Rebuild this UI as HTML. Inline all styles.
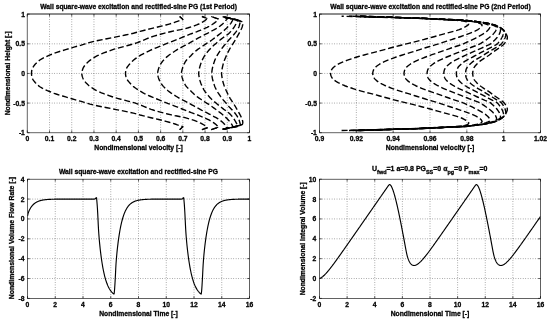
<!DOCTYPE html>
<html lang="en"><head><meta charset="utf-8"><title>Wall square-wave excitation and rectified-sine PG</title>
<style>html,body{margin:0;padding:0;background:#fff}svg{display:block}text{font-family:"Liberation Sans",Arial,Helvetica,sans-serif;font-weight:bold;font-size:6.75px;fill:#000;stroke:#000;stroke-width:0.28px;paint-order:stroke}</style>
</head><body>
<svg width="550" height="321" viewBox="0 0 550 321">
<rect width="550" height="321" fill="#fff"/>
<path d="M49.52 14.20V132.70M71.74 14.20V132.70M93.96 14.20V132.70M116.18 14.20V132.70M138.40 14.20V132.70M160.62 14.20V132.70M182.84 14.20V132.70M205.06 14.20V132.70M227.28 14.20V132.70M27.30 103.07H249.50M27.30 73.45H249.50M27.30 43.83H249.50" fill="none" stroke="#000" stroke-width="0.55" stroke-dasharray="0.75 1.7" opacity="0.8"/>
<path d="M27.30 132.70v-2.3M27.30 14.20v2.3M49.52 132.70v-2.3M49.52 14.20v2.3M71.74 132.70v-2.3M71.74 14.20v2.3M93.96 132.70v-2.3M93.96 14.20v2.3M116.18 132.70v-2.3M116.18 14.20v2.3M138.40 132.70v-2.3M138.40 14.20v2.3M160.62 132.70v-2.3M160.62 14.20v2.3M182.84 132.70v-2.3M182.84 14.20v2.3M205.06 132.70v-2.3M205.06 14.20v2.3M227.28 132.70v-2.3M227.28 14.20v2.3M249.50 132.70v-2.3M249.50 14.20v2.3M27.30 132.70h2.3M249.50 132.70h-2.3M27.30 103.07h2.3M249.50 103.07h-2.3M27.30 73.45h2.3M249.50 73.45h-2.3M27.30 43.83h2.3M249.50 43.83h-2.3M27.30 14.20h2.3M249.50 14.20h-2.3" fill="none" stroke="#000" stroke-width="0.62"/>
<path d="M27.3 14.2V132.7H249.5V14.2" fill="none" stroke="#000" stroke-width="0.62"/>
<path d="M26.990000000000002 14.0H249.81" fill="none" stroke="#000" stroke-width="0.9"/>
<text x="27.30" y="141.00" text-anchor="middle">0</text>
<text x="49.52" y="141.00" text-anchor="middle">0.1</text>
<text x="71.74" y="141.00" text-anchor="middle">0.2</text>
<text x="93.96" y="141.00" text-anchor="middle">0.3</text>
<text x="116.18" y="141.00" text-anchor="middle">0.4</text>
<text x="138.40" y="141.00" text-anchor="middle">0.5</text>
<text x="160.62" y="141.00" text-anchor="middle">0.6</text>
<text x="182.84" y="141.00" text-anchor="middle">0.7</text>
<text x="205.06" y="141.00" text-anchor="middle">0.8</text>
<text x="227.28" y="141.00" text-anchor="middle">0.9</text>
<text x="249.50" y="141.00" text-anchor="middle">1</text>
<text x="24.90" y="135.20" text-anchor="end">-1</text>
<text x="24.90" y="105.57" text-anchor="end">-0.5</text>
<text x="24.90" y="75.95" text-anchor="end">0</text>
<text x="24.90" y="46.33" text-anchor="end">0.5</text>
<text x="24.90" y="16.70" text-anchor="end">1</text>
<clipPath id="c1"><rect x="27.3" y="14.2" width="222.2" height="118.49999999999999"/></clipPath>
<g clip-path="url(#c1)" fill="none" stroke="#000" stroke-width="1.4" stroke-dasharray="6.0 2.8" stroke-linejoin="round">
<path d="M179.64 129.65L182.91 126.73L180.09 125.82L177.43 124.92L175.00 124.02L172.28 123.11L169.20 122.21L165.90 121.31L162.44 120.40L158.69 119.50L154.74 118.60L150.92 117.70L147.21 116.79L143.57 115.89L140.10 114.99L136.90 114.08L133.44 113.18L129.50 112.28L125.30 111.37L120.92 110.47L116.30 109.57L111.67 108.67L107.01 107.76L102.46 106.86L98.07 105.96L93.84 105.05L90.14 104.15L87.06 103.25L84.24 102.34L81.27 101.44L77.97 100.54L74.78 99.64L71.75 98.73L68.72 97.83L65.67 96.93L62.58 96.02L59.57 95.12L56.79 94.22L54.19 93.32L51.81 92.41L49.57 91.51L47.42 90.61L45.39 89.70L43.53 88.80L41.77 87.90L40.25 86.99L39.00 86.09L37.90 85.19L36.91 84.29L36.01 83.38L35.16 82.48L34.39 81.58L33.72 80.67L33.13 79.77L32.57 78.87L32.13 77.96L31.88 77.06L31.74 76.16L31.62 75.26L31.55 74.35L31.52 73.45L31.55 72.54L31.62 71.62L31.74 70.71L31.88 69.79L32.13 68.88L32.57 67.96L33.13 67.05L33.72 66.13L34.39 65.22L35.16 64.30L36.01 63.39L36.91 62.47L37.90 61.56L39.00 60.64L40.25 59.73L41.77 58.81L43.53 57.90L45.39 56.98L47.42 56.07L49.57 55.15L51.81 54.24L54.19 53.32L56.79 52.41L59.57 51.49L62.58 50.58L65.67 49.66L68.72 48.75L71.75 47.83L74.78 46.92L77.97 46.00L81.27 45.09L84.24 44.17L87.06 43.26L90.14 42.34L93.84 41.43L98.07 40.52L102.46 39.60L107.01 38.69L111.67 37.77L116.30 36.86L120.92 35.94L125.30 35.03L129.50 34.11L133.44 33.20L136.90 32.28L140.10 31.37L143.57 30.45L147.21 29.54L150.92 28.62L154.74 27.71L158.69 26.79L162.44 25.88L165.90 24.96L169.20 24.05L172.28 23.13L175.00 22.22L177.43 21.30L180.09 20.39L182.91 19.47L179.64 16.51"/>
<path d="M201.90 129.65L207.37 127.78L206.49 126.86L205.39 125.94L204.04 125.02L202.47 124.09L200.77 123.17L198.85 122.25L196.69 121.33L194.18 120.41L191.24 119.49L188.29 118.57L185.08 117.65L180.71 116.73L175.72 115.81L171.41 114.89L167.51 113.97L163.86 113.04L160.39 112.12L157.06 111.20L153.95 110.28L151.16 109.36L148.69 108.44L146.44 107.52L144.28 106.60L142.08 105.68L139.75 104.76L137.36 103.84L134.70 102.92L131.24 102.00L127.83 101.07L124.43 100.15L120.82 99.23L117.34 98.31L114.12 97.39L111.45 96.47L108.95 95.55L106.30 94.63L103.74 93.71L101.45 92.79L99.34 91.87L97.41 90.95L95.63 90.02L93.98 89.10L92.51 88.18L91.17 87.26L89.93 86.34L88.80 85.42L87.75 84.50L86.77 83.58L85.88 82.66L85.11 81.74L84.40 80.82L83.77 79.90L83.26 78.97L82.86 78.05L82.52 77.13L82.24 76.21L82.03 75.29L81.87 74.37L81.76 73.45L81.87 72.52L82.03 71.58L82.24 70.65L82.52 69.72L82.86 68.79L83.26 67.85L83.77 66.92L84.40 65.99L85.11 65.05L85.88 64.12L86.77 63.19L87.75 62.25L88.80 61.32L89.93 60.39L91.17 59.46L92.51 58.52L93.98 57.59L95.63 56.66L97.41 55.72L99.34 54.79L101.45 53.86L103.74 52.93L106.30 51.99L108.95 51.06L111.45 50.13L114.12 49.19L117.34 48.26L120.82 47.33L124.43 46.39L127.83 45.46L131.24 44.53L134.70 43.60L137.36 42.66L139.75 41.73L142.08 40.80L144.28 39.86L146.44 38.93L148.69 38.00L151.16 37.07L153.95 36.13L157.06 35.20L160.39 34.27L163.86 33.33L167.51 32.40L171.41 31.47L175.72 30.53L180.71 29.60L185.08 28.67L188.29 27.74L191.24 26.80L194.18 25.87L196.69 24.94L198.85 24.00L200.77 23.07L202.47 22.14L204.04 21.21L205.39 20.27L206.49 19.34L207.37 18.41L201.90 16.51"/>
<path d="M211.17 129.65L218.26 127.25L217.67 126.34L216.91 125.43L215.98 124.52L214.82 123.60L213.50 122.69L212.10 121.78L210.60 120.87L208.95 119.96L207.18 119.04L205.24 118.13L203.10 117.22L200.92 116.31L198.74 115.40L196.47 114.48L193.97 113.57L191.34 112.66L188.92 111.75L186.64 110.84L184.38 109.93L182.15 109.01L179.95 108.10L177.73 107.19L175.42 106.28L172.98 105.37L170.53 104.45L168.14 103.54L165.79 102.63L163.53 101.72L161.34 100.81L159.12 99.89L156.79 98.98L154.47 98.07L152.29 97.16L150.19 96.25L148.19 95.34L146.26 94.42L144.43 93.51L142.71 92.60L141.08 91.69L139.53 90.78L138.07 89.86L136.71 88.95L135.42 88.04L134.21 87.13L133.11 86.22L132.12 85.30L131.19 84.39L130.33 83.48L129.50 82.57L128.71 81.66L127.99 80.75L127.37 79.83L126.78 78.92L126.31 78.01L126.05 77.10L125.84 76.19L125.67 75.27L125.55 74.36L125.51 73.45L125.55 72.53L125.67 71.60L125.84 70.68L126.05 69.75L126.31 68.83L126.78 67.91L127.37 66.98L127.99 66.06L128.71 65.13L129.50 64.21L130.33 63.29L131.19 62.36L132.12 61.44L133.11 60.52L134.21 59.59L135.42 58.67L136.71 57.74L138.07 56.82L139.53 55.90L141.08 54.97L142.71 54.05L144.43 53.12L146.26 52.20L148.19 51.28L150.19 50.35L152.29 49.43L154.47 48.50L156.79 47.58L159.12 46.66L161.34 45.73L163.53 44.81L165.79 43.89L168.14 42.96L170.53 42.04L172.98 41.11L175.42 40.19L177.73 39.27L179.95 38.34L182.15 37.42L184.38 36.49L186.64 35.57L188.92 34.65L191.34 33.72L193.97 32.80L196.47 31.87L198.74 30.95L200.92 30.03L203.10 29.10L205.24 28.18L207.18 27.26L208.95 26.33L210.60 25.41L212.10 24.48L213.50 23.56L214.82 22.64L215.98 21.71L216.91 20.79L217.67 19.86L218.26 18.94L211.17 16.51"/>
<path d="M222.61 129.30L227.28 127.84L226.70 126.91L226.04 125.99L225.31 125.07L224.49 124.15L223.57 123.23L222.57 122.31L221.50 121.38L220.33 120.46L219.05 119.54L217.67 118.62L216.11 117.70L214.40 116.77L212.66 115.85L210.96 114.93L209.25 114.01L207.50 113.09L205.69 112.17L203.80 111.24L201.93 110.32L200.16 109.40L198.46 108.48L196.78 107.56L195.11 106.63L193.46 105.71L191.81 104.79L190.17 103.87L188.53 102.95L186.84 102.03L185.00 101.10L183.09 100.18L181.30 99.26L179.58 98.34L177.96 97.42L176.47 96.49L175.06 95.57L173.66 94.65L172.23 93.73L170.80 92.81L169.47 91.89L168.28 90.96L167.16 90.04L166.12 89.12L165.15 88.20L164.24 87.28L163.38 86.36L162.57 85.43L161.85 84.51L161.21 83.59L160.63 82.67L160.10 81.75L159.63 80.82L159.23 79.90L158.87 78.98L158.56 78.06L158.28 77.14L158.04 76.22L157.83 75.29L157.64 74.37L157.49 73.45L157.64 72.52L157.83 71.58L158.04 70.65L158.28 69.71L158.56 68.78L158.87 67.85L159.23 66.91L159.63 65.98L160.10 65.04L160.63 64.11L161.21 63.18L161.85 62.24L162.57 61.31L163.38 60.37L164.24 59.44L165.15 58.51L166.12 57.57L167.16 56.64L168.28 55.71L169.47 54.77L170.80 53.84L172.23 52.90L173.66 51.97L175.06 51.04L176.47 50.10L177.96 49.17L179.58 48.23L181.30 47.30L183.09 46.37L185.00 45.43L186.84 44.50L188.53 43.56L190.17 42.63L191.81 41.70L193.46 40.76L195.11 39.83L196.78 38.89L198.46 37.96L200.16 37.03L201.93 36.09L203.80 35.16L205.69 34.22L207.50 33.29L209.25 32.36L210.96 31.42L212.66 30.49L214.40 29.55L216.11 28.62L217.67 27.69L219.05 26.75L220.33 25.82L221.50 24.89L222.57 23.95L223.57 23.02L224.49 22.08L225.31 21.15L226.04 20.22L226.70 19.28L227.28 18.35L222.61 16.87"/>
<path d="M222.61 129.30L233.06 127.25L232.74 126.34L232.34 125.43L231.85 124.52L231.28 123.60L230.64 122.69L229.93 121.78L229.13 120.87L228.29 119.96L227.41 119.04L226.51 118.13L225.56 117.22L224.56 116.31L223.53 115.40L222.45 114.48L221.29 113.57L220.10 112.66L218.88 111.75L217.67 110.84L216.47 109.93L215.26 109.01L214.04 108.10L212.81 107.19L211.58 106.28L210.33 105.37L208.93 104.45L207.41 103.54L205.91 102.63L204.50 101.72L203.14 100.81L201.80 99.89L200.45 98.98L199.08 98.07L197.77 97.16L196.57 96.25L195.45 95.34L194.40 94.42L193.39 93.51L192.42 92.60L191.51 91.69L190.64 90.78L189.74 89.86L188.77 88.95L187.81 88.04L186.93 87.13L186.21 86.22L185.55 85.30L184.97 84.39L184.46 83.48L184.00 82.57L183.59 81.66L183.22 80.75L182.89 79.83L182.59 78.92L182.31 78.01L182.06 77.10L181.83 76.19L181.62 75.27L181.44 74.36L181.28 73.45L181.44 72.53L181.62 71.60L181.83 70.68L182.06 69.75L182.31 68.83L182.59 67.91L182.89 66.98L183.22 66.06L183.59 65.13L184.00 64.21L184.46 63.29L184.97 62.36L185.55 61.44L186.21 60.52L186.93 59.59L187.81 58.67L188.77 57.74L189.74 56.82L190.64 55.90L191.51 54.97L192.42 54.05L193.39 53.12L194.40 52.20L195.45 51.28L196.57 50.35L197.77 49.43L199.08 48.50L200.45 47.58L201.80 46.66L203.14 45.73L204.50 44.81L205.91 43.89L207.41 42.96L208.93 42.04L210.33 41.11L211.58 40.19L212.81 39.27L214.04 38.34L215.26 37.42L216.47 36.49L217.67 35.57L218.88 34.65L220.10 33.72L221.29 32.80L222.45 31.87L223.53 30.95L224.56 30.03L225.56 29.10L226.51 28.18L227.41 27.26L228.29 26.33L229.13 25.41L229.93 24.48L230.64 23.56L231.28 22.64L231.85 21.71L232.34 20.79L232.74 19.86L233.06 18.94L222.61 16.87"/>
<path d="M222.84 129.30L237.72 126.37L237.49 125.48L237.16 124.58L236.73 123.68L236.24 122.79L235.73 121.89L235.22 120.99L234.68 120.10L234.12 119.20L233.51 118.30L232.86 117.40L232.17 116.51L231.43 115.61L230.63 114.71L229.77 113.82L228.84 112.92L227.78 112.02L226.52 111.12L225.18 110.23L223.86 109.33L222.65 108.43L221.50 107.54L220.38 106.64L219.27 105.74L218.17 104.85L217.08 103.95L215.98 103.05L214.86 102.15L213.78 101.26L212.78 100.36L211.84 99.46L210.95 98.57L210.09 97.67L209.26 96.77L208.47 95.88L207.70 94.98L206.97 94.08L206.26 93.18L205.57 92.29L204.92 91.39L204.31 90.49L203.78 89.60L203.28 88.70L202.82 87.80L202.40 86.91L201.99 86.01L201.60 85.11L201.23 84.21L200.88 83.32L200.56 82.42L200.27 81.52L200.00 80.63L199.75 79.73L199.52 78.83L199.32 77.94L199.14 77.04L198.99 76.14L198.85 75.24L198.73 74.35L198.64 73.45L198.73 72.54L198.85 71.63L198.99 70.72L199.14 69.81L199.32 68.91L199.52 68.00L199.75 67.09L200.00 66.18L200.27 65.27L200.56 64.36L200.88 63.45L201.23 62.54L201.60 61.64L201.99 60.73L202.40 59.82L202.82 58.91L203.28 58.00L203.78 57.09L204.31 56.18L204.92 55.27L205.57 54.36L206.26 53.46L206.97 52.55L207.70 51.64L208.47 50.73L209.26 49.82L210.09 48.91L210.95 48.00L211.84 47.09L212.78 46.18L213.78 45.28L214.86 44.37L215.98 43.46L217.08 42.55L218.17 41.64L219.27 40.73L220.38 39.82L221.50 38.91L222.65 38.01L223.86 37.10L225.18 36.19L226.52 35.28L227.78 34.37L228.84 33.46L229.77 32.55L230.63 31.64L231.43 30.73L232.17 29.83L232.86 28.92L233.51 28.01L234.12 27.10L234.68 26.19L235.22 25.28L235.73 24.37L236.24 23.46L236.73 22.56L237.16 21.65L237.49 20.74L237.72 19.83L222.84 16.87"/>
<path d="M223.28 129.30L240.63 125.38L240.37 124.50L240.12 123.62L239.87 122.74L239.64 121.86L239.40 120.98L239.12 120.10L238.79 119.22L238.37 118.34L237.89 117.46L237.36 116.58L236.80 115.70L236.21 114.82L235.57 113.94L234.87 113.06L234.12 112.18L233.34 111.30L232.54 110.42L231.75 109.54L230.92 108.66L230.06 107.78L229.22 106.90L228.43 106.02L227.70 105.14L227.00 104.26L226.27 103.38L225.50 102.50L224.72 101.62L223.94 100.74L223.19 99.86L222.49 98.97L221.80 98.09L221.14 97.21L220.49 96.33L219.87 95.45L219.27 94.57L218.69 93.69L218.13 92.81L217.60 91.93L217.09 91.05L216.60 90.17L216.13 89.29L215.68 88.41L215.26 87.53L214.89 86.65L214.55 85.77L214.24 84.89L213.95 84.01L213.67 83.13L213.41 82.25L213.15 81.37L212.90 80.49L212.66 79.61L212.45 78.73L212.28 77.85L212.13 76.97L212.00 76.09L211.89 75.21L211.79 74.33L211.73 73.45L211.79 72.56L211.89 71.67L212.00 70.77L212.13 69.88L212.28 68.99L212.45 68.10L212.66 67.21L212.90 66.32L213.15 65.42L213.41 64.53L213.67 63.64L213.95 62.75L214.24 61.86L214.55 60.97L214.89 60.07L215.26 59.18L215.68 58.29L216.13 57.40L216.60 56.51L217.09 55.61L217.60 54.72L218.13 53.83L218.69 52.94L219.27 52.05L219.87 51.16L220.49 50.26L221.14 49.37L221.80 48.48L222.49 47.59L223.19 46.70L223.94 45.81L224.72 44.91L225.50 44.02L226.27 43.13L227.00 42.24L227.70 41.35L228.43 40.45L229.22 39.56L230.06 38.67L230.92 37.78L231.75 36.89L232.54 36.00L233.34 35.10L234.12 34.21L234.87 33.32L235.57 32.43L236.21 31.54L236.80 30.65L237.36 29.75L237.89 28.86L238.37 27.97L238.79 27.08L239.12 26.19L239.40 25.29L239.64 24.40L239.87 23.51L240.12 22.62L240.37 21.73L240.63 20.84L223.28 16.87"/>
<path d="M223.95 129.30L242.28 124.56L242.61 123.70L242.79 122.83L242.79 121.96L242.64 121.10L242.42 120.23L242.17 119.36L241.85 118.50L241.46 117.63L241.03 116.76L240.60 115.90L240.17 115.03L239.71 114.17L239.23 113.30L238.74 112.43L238.24 111.57L237.75 110.70L237.25 109.83L236.77 108.97L236.27 108.10L235.77 107.24L235.26 106.37L234.73 105.50L234.18 104.64L233.62 103.77L233.06 102.90L232.50 102.04L231.94 101.17L231.38 100.31L230.81 99.44L230.26 98.57L229.75 97.71L229.27 96.84L228.81 95.97L228.37 95.11L227.94 94.24L227.52 93.37L227.11 92.51L226.70 91.64L226.28 90.78L225.88 89.91L225.49 89.04L225.12 88.18L224.77 87.31L224.44 86.44L224.12 85.58L223.82 84.71L223.54 83.85L223.28 82.98L223.04 82.11L222.82 81.25L222.61 80.38L222.42 79.51L222.24 78.65L222.09 77.78L221.95 76.92L221.82 76.05L221.71 75.18L221.61 74.32L221.53 73.45L221.61 72.57L221.71 71.69L221.82 70.82L221.95 69.94L222.09 69.06L222.24 68.18L222.42 67.31L222.61 66.43L222.82 65.55L223.04 64.67L223.28 63.80L223.54 62.92L223.82 62.04L224.12 61.16L224.44 60.28L224.77 59.41L225.12 58.53L225.49 57.65L225.88 56.77L226.28 55.90L226.70 55.02L227.11 54.14L227.52 53.26L227.94 52.39L228.37 51.51L228.81 50.63L229.27 49.75L229.75 48.87L230.26 48.00L230.81 47.12L231.38 46.24L231.94 45.36L232.50 44.49L233.06 43.61L233.62 42.73L234.18 41.85L234.73 40.97L235.26 40.10L235.77 39.22L236.27 38.34L236.77 37.46L237.25 36.59L237.75 35.71L238.24 34.83L238.74 33.95L239.23 33.08L239.71 32.20L240.17 31.32L240.60 30.44L241.03 29.56L241.46 28.69L241.85 27.81L242.17 26.93L242.42 26.05L242.64 25.18L242.79 24.30L242.79 23.42L242.61 22.54L242.28 21.67L223.95 16.87"/>
<path stroke-dasharray="none" stroke-width="1.05" d="M182.91 19.47L179.64 16.51M179.64 129.65L182.91 126.73M207.37 18.41L201.90 16.51M201.90 129.65L207.37 127.78M218.26 18.94L211.17 16.51M211.17 129.65L218.26 127.25M227.28 18.35L222.61 16.87M222.61 129.30L227.28 127.84M233.06 18.94L222.61 16.87M222.61 129.30L233.06 127.25M237.72 19.83L222.84 16.87M222.84 129.30L237.72 126.37M240.63 20.84L223.28 16.87M223.28 129.30L240.63 125.38M242.28 21.67L223.95 16.87M223.95 129.30L242.28 124.56"/>
</g>
<text x="138.6" y="8.7" text-anchor="middle" textLength="196.6" lengthAdjust="spacingAndGlyphs">Wall square-wave excitation and rectified-sine PG (1st Period)</text>
<text x="138.5" y="149.6" text-anchor="middle" textLength="88.4" lengthAdjust="spacingAndGlyphs">Nondimensional velocity [-]</text>
<text transform="translate(9.7 73.25) rotate(-90)" text-anchor="middle" textLength="84" lengthAdjust="spacingAndGlyphs">Nondimensional Height [-]</text>
<path d="M356.33 14.20V132.70M393.17 14.20V132.70M430.00 14.20V132.70M466.83 14.20V132.70M503.67 14.20V132.70M319.50 103.07H540.50M319.50 73.45H540.50M319.50 43.83H540.50" fill="none" stroke="#000" stroke-width="0.55" stroke-dasharray="0.75 1.7" opacity="0.8"/>
<path d="M319.50 132.70v-2.3M319.50 14.20v2.3M356.33 132.70v-2.3M356.33 14.20v2.3M393.17 132.70v-2.3M393.17 14.20v2.3M430.00 132.70v-2.3M430.00 14.20v2.3M466.83 132.70v-2.3M466.83 14.20v2.3M503.67 132.70v-2.3M503.67 14.20v2.3M540.50 132.70v-2.3M540.50 14.20v2.3M319.50 132.70h2.3M540.50 132.70h-2.3M319.50 103.07h2.3M540.50 103.07h-2.3M319.50 73.45h2.3M540.50 73.45h-2.3M319.50 43.83h2.3M540.50 43.83h-2.3M319.50 14.20h2.3M540.50 14.20h-2.3" fill="none" stroke="#000" stroke-width="0.62"/>
<path d="M319.5 14.2V132.7H540.5V14.2" fill="none" stroke="#000" stroke-width="0.62"/>
<path d="M319.19 14.0H540.81" fill="none" stroke="#000" stroke-width="0.9"/>
<text x="319.50" y="141.00" text-anchor="middle">0.9</text>
<text x="356.33" y="141.00" text-anchor="middle">0.92</text>
<text x="393.17" y="141.00" text-anchor="middle">0.94</text>
<text x="430.00" y="141.00" text-anchor="middle">0.96</text>
<text x="466.83" y="141.00" text-anchor="middle">0.98</text>
<text x="503.67" y="141.00" text-anchor="middle">1</text>
<text x="540.50" y="141.00" text-anchor="middle">1.02</text>
<text x="316.90" y="135.20" text-anchor="end">-1</text>
<text x="316.90" y="105.57" text-anchor="end">-0.5</text>
<text x="316.90" y="75.95" text-anchor="end">0</text>
<text x="316.90" y="46.33" text-anchor="end">0.5</text>
<text x="316.90" y="16.70" text-anchor="end">1</text>
<clipPath id="c2"><rect x="319.5" y="14.2" width="221.0" height="118.49999999999999"/></clipPath>
<g clip-path="url(#c2)" fill="none" stroke="#000" stroke-width="1.4" stroke-dasharray="6.0 2.8" stroke-linejoin="round">
<path d="M341.60 130.51L417.48 128.51L456.83 126.44L463.34 125.67L466.63 124.90L468.15 124.13L468.66 123.37L468.67 122.60L468.22 121.83L467.10 121.06L465.94 120.29L464.69 119.53L463.21 118.76L461.41 117.99L459.25 117.22L456.89 116.45L454.27 115.69L451.52 114.92L448.73 114.15L446.00 113.38L443.25 112.61L440.47 111.85L437.67 111.08L434.88 110.31L432.07 109.54L429.25 108.78L426.39 108.01L423.50 107.24L420.58 106.47L417.62 105.70L414.62 104.94L411.58 104.17L408.49 103.40L405.30 102.63L402.00 101.86L398.92 101.10L395.97 100.33L393.06 99.56L390.18 98.79L387.30 98.02L384.45 97.26L381.67 96.49L378.90 95.72L376.11 94.95L373.20 94.18L370.16 93.42L367.13 92.65L364.15 91.88L361.28 91.11L358.56 90.34L356.08 89.58L353.73 88.81L351.37 88.04L349.00 87.27L346.83 86.50L344.87 85.74L343.03 84.97L341.32 84.20L339.67 83.43L338.17 82.67L336.86 81.90L335.66 81.13L334.58 80.36L333.68 79.59L332.91 78.83L332.22 78.06L331.68 77.29L331.33 76.52L331.03 75.75L330.78 74.99L330.61 74.22L330.55 73.45L330.61 72.68L330.78 71.91L331.03 71.14L331.33 70.37L331.68 69.60L332.22 68.83L332.91 68.06L333.68 67.29L334.58 66.52L335.66 65.75L336.86 64.98L338.17 64.21L339.67 63.44L341.32 62.67L343.03 61.90L344.87 61.13L346.83 60.36L349.00 59.59L351.37 58.82L353.73 58.05L356.08 57.27L358.56 56.50L361.28 55.73L364.15 54.96L367.13 54.19L370.16 53.42L373.20 52.65L376.11 51.88L378.90 51.11L381.67 50.34L384.45 49.57L387.30 48.80L390.18 48.03L393.06 47.26L395.97 46.49L398.92 45.72L402.00 44.95L405.30 44.18L408.49 43.41L411.58 42.64L414.62 41.87L417.62 41.10L420.58 40.33L423.50 39.56L426.39 38.79L429.25 38.02L432.07 37.25L434.88 36.48L437.67 35.71L440.47 34.94L443.25 34.17L446.00 33.40L448.73 32.63L451.52 31.86L454.27 31.09L456.89 30.32L459.25 29.55L461.41 28.78L463.21 28.01L464.69 27.23L465.94 26.46L467.10 25.69L468.22 24.92L468.67 24.15L468.66 23.38L468.15 22.61L466.63 21.84L463.34 21.07L456.83 20.30L417.48 18.23L341.60 16.21"/>
<path d="M348.97 130.51L418.21 128.51L460.92 126.44L469.05 125.67L474.07 124.90L477.26 124.13L479.53 123.37L481.34 122.60L482.11 121.83L481.94 121.06L481.53 120.29L480.90 119.53L480.07 118.76L479.04 117.99L477.84 117.22L476.46 116.45L474.93 115.69L473.26 114.92L471.46 114.15L469.55 113.38L467.53 112.61L465.42 111.85L463.23 111.08L460.98 110.31L458.67 109.54L456.33 108.78L453.96 108.01L451.58 107.24L449.19 106.47L446.82 105.70L444.47 104.94L442.16 104.17L439.90 103.40L437.65 102.63L435.12 101.86L432.42 101.10L429.73 100.33L427.18 99.56L424.69 98.79L422.22 98.02L419.76 97.26L417.32 96.49L414.90 95.72L412.49 94.95L410.05 94.18L407.53 93.42L404.97 92.65L402.45 91.88L400.03 91.11L397.71 90.34L395.47 89.58L393.31 88.81L391.24 88.04L389.22 87.27L387.27 86.50L385.45 85.74L383.79 84.97L382.24 84.20L380.80 83.43L379.50 82.67L378.34 81.90L377.25 81.13L376.26 80.36L375.44 79.59L374.79 78.83L374.21 78.06L373.72 77.29L373.37 76.52L373.14 75.75L372.93 74.99L372.78 74.22L372.72 73.45L372.78 72.68L372.93 71.91L373.14 71.14L373.37 70.37L373.72 69.60L374.21 68.83L374.79 68.06L375.44 67.29L376.26 66.52L377.25 65.75L378.34 64.98L379.50 64.21L380.80 63.44L382.24 62.67L383.79 61.90L385.45 61.13L387.27 60.36L389.22 59.59L391.24 58.82L393.31 58.05L395.47 57.27L397.71 56.50L400.03 55.73L402.45 54.96L404.97 54.19L407.53 53.42L410.05 52.65L412.49 51.88L414.90 51.11L417.32 50.34L419.76 49.57L422.22 48.80L424.69 48.03L427.18 47.26L429.73 46.49L432.42 45.72L435.12 44.95L437.65 44.18L439.90 43.41L442.16 42.64L444.47 41.87L446.82 41.10L449.19 40.33L451.58 39.56L453.96 38.79L456.33 38.02L458.67 37.25L460.98 36.48L463.23 35.71L465.42 34.94L467.53 34.17L469.55 33.40L471.46 32.63L473.26 31.86L474.93 31.09L476.46 30.32L477.84 29.55L479.04 28.78L480.07 28.01L480.90 27.23L481.53 26.46L481.94 25.69L482.11 24.92L481.34 24.15L479.53 23.38L477.26 22.61L474.07 21.84L469.05 21.07L460.92 20.30L418.21 18.23L348.97 16.21"/>
<path d="M352.65 130.51L418.95 128.51L462.41 126.44L470.92 125.67L476.92 124.90L480.77 124.13L483.66 123.37L485.98 122.60L487.95 121.83L489.75 121.06L490.02 120.29L489.86 119.53L489.55 118.76L489.11 117.99L488.54 117.22L487.85 116.45L487.04 115.69L486.12 114.92L485.10 114.15L483.98 113.38L482.78 112.61L481.50 111.85L480.15 111.08L478.74 110.31L477.27 109.54L475.75 108.78L474.18 108.01L472.58 107.24L470.96 106.47L469.31 105.70L467.65 104.94L465.99 104.17L464.33 103.40L462.61 102.63L460.47 101.86L458.07 101.10L455.65 100.33L453.38 99.56L451.13 98.79L448.89 98.02L446.67 97.26L444.47 96.49L442.28 95.72L440.11 94.95L437.93 94.18L435.72 93.42L433.50 92.65L431.30 91.88L429.16 91.11L427.05 90.34L424.98 89.58L422.97 88.81L421.06 88.04L419.19 87.27L417.40 86.50L415.72 85.74L414.19 84.97L412.78 84.20L411.46 83.43L410.27 82.67L409.19 81.90L408.17 81.13L407.25 80.36L406.48 79.59L405.88 78.83L405.35 78.06L404.91 77.29L404.60 76.52L404.39 75.75L404.21 74.99L404.08 74.22L404.03 73.45L404.08 72.68L404.21 71.91L404.39 71.14L404.60 70.37L404.91 69.60L405.35 68.83L405.88 68.06L406.48 67.29L407.25 66.52L408.17 65.75L409.19 64.98L410.27 64.21L411.46 63.44L412.78 62.67L414.19 61.90L415.72 61.13L417.40 60.36L419.19 59.59L421.06 58.82L422.97 58.05L424.98 57.27L427.05 56.50L429.16 55.73L431.30 54.96L433.50 54.19L435.72 53.42L437.93 52.65L440.11 51.88L442.28 51.11L444.47 50.34L446.67 49.57L448.89 48.80L451.13 48.03L453.38 47.26L455.65 46.49L458.07 45.72L460.47 44.95L462.61 44.18L464.33 43.41L465.99 42.64L467.65 41.87L469.31 41.10L470.96 40.33L472.58 39.56L474.18 38.79L475.75 38.02L477.27 37.25L478.74 36.48L480.15 35.71L481.50 34.94L482.78 34.17L483.98 33.40L485.10 32.63L486.12 31.86L487.04 31.09L487.85 30.32L488.54 29.55L489.11 28.78L489.55 28.01L489.86 27.23L490.02 26.46L489.75 25.69L487.95 24.92L485.98 24.15L483.66 23.38L480.77 22.61L476.92 21.84L470.92 21.07L462.41 20.30L418.95 18.23L352.65 16.21"/>
<path d="M355.41 130.51L419.69 128.51L463.93 126.44L472.54 125.67L479.21 124.90L483.63 124.13L486.91 123.37L489.65 122.60L491.97 121.83L493.91 121.06L495.83 120.29L496.67 119.53L496.61 118.76L496.46 117.99L496.22 117.22L495.89 116.45L495.47 115.69L494.98 114.92L494.41 114.15L493.78 113.38L493.07 112.61L492.30 111.85L491.47 111.08L490.59 110.31L489.65 109.54L488.67 108.78L487.64 108.01L486.57 107.24L485.47 106.47L484.34 105.70L483.18 104.94L481.99 104.17L480.79 103.40L479.49 102.63L477.71 101.86L475.59 101.10L473.44 100.33L471.44 99.56L469.45 98.79L467.44 98.02L465.45 97.26L463.49 96.49L461.55 95.72L459.61 94.95L457.68 94.18L455.76 93.42L453.84 92.65L451.93 91.88L450.04 91.11L448.14 90.34L446.24 89.58L444.39 88.81L442.64 88.04L440.93 87.27L439.28 86.50L437.74 85.74L436.35 84.97L435.06 84.20L433.87 83.43L432.77 82.67L431.78 81.90L430.83 81.13L429.97 80.36L429.26 79.59L428.71 78.83L428.23 78.06L427.83 77.29L427.55 76.52L427.36 75.75L427.21 74.99L427.10 74.22L427.05 73.45L427.10 72.68L427.21 71.91L427.36 71.14L427.55 70.37L427.83 69.60L428.23 68.83L428.71 68.06L429.26 67.29L429.97 66.52L430.83 65.75L431.78 64.98L432.77 64.21L433.87 63.44L435.06 62.67L436.35 61.90L437.74 61.13L439.28 60.36L440.93 59.59L442.64 58.82L444.39 58.05L446.24 57.27L448.14 56.50L450.04 55.73L451.93 54.96L453.84 54.19L455.76 53.42L457.68 52.65L459.61 51.88L461.55 51.11L463.49 50.34L465.45 49.57L467.44 48.80L469.45 48.03L471.44 47.26L473.44 46.49L475.59 45.72L477.71 44.95L479.49 44.18L480.79 43.41L481.99 42.64L483.18 41.87L484.34 41.10L485.47 40.33L486.57 39.56L487.64 38.79L488.67 38.02L489.65 37.25L490.59 36.48L491.47 35.71L492.30 34.94L493.07 34.17L493.78 33.40L494.41 32.63L494.98 31.86L495.47 31.09L495.89 30.32L496.22 29.55L496.46 28.78L496.61 28.01L496.67 27.23L495.83 26.46L493.91 25.69L491.97 24.92L489.65 24.15L486.91 23.38L483.63 22.61L479.21 21.84L472.54 21.07L463.93 20.30L419.69 18.23L355.41 16.21"/>
<path d="M357.25 130.51L420.42 128.51L464.22 126.44L472.28 125.67L479.08 124.90L484.12 124.13L487.67 123.37L490.47 122.60L492.79 121.83L494.82 121.06L496.56 120.29L497.93 119.53L499.17 118.76L500.18 117.99L500.54 117.22L500.49 116.45L500.38 115.69L500.19 114.92L499.95 114.15L499.64 113.38L499.27 112.61L498.84 111.85L498.37 111.08L497.83 110.31L497.25 109.54L496.63 108.78L495.96 108.01L495.25 107.24L494.50 106.47L493.71 105.70L492.90 104.94L492.05 104.17L491.17 103.40L490.20 102.63L488.72 101.86L486.90 101.10L485.03 100.33L483.31 99.56L481.56 98.79L479.81 98.02L478.06 97.26L476.34 96.49L474.63 95.72L472.94 94.95L471.26 94.18L469.60 93.42L467.96 92.65L466.32 91.88L464.67 91.11L462.97 90.34L461.26 89.58L459.57 88.81L457.98 88.04L456.43 87.27L454.93 86.50L453.53 85.74L452.27 84.97L451.11 84.20L450.03 83.43L449.04 82.67L448.13 81.90L447.25 81.13L446.45 80.36L445.80 79.59L445.30 78.83L444.86 78.06L444.50 77.29L444.25 76.52L444.08 75.75L443.95 74.99L443.85 74.22L443.81 73.45L443.85 72.68L443.95 71.91L444.08 71.14L444.25 70.37L444.50 69.60L444.86 68.83L445.30 68.06L445.80 67.29L446.45 66.52L447.25 65.75L448.13 64.98L449.04 64.21L450.03 63.44L451.11 62.67L452.27 61.90L453.53 61.13L454.93 60.36L456.43 59.59L457.98 58.82L459.57 58.05L461.26 57.27L462.97 56.50L464.67 55.73L466.32 54.96L467.96 54.19L469.60 53.42L471.26 52.65L472.94 51.88L474.63 51.11L476.34 50.34L478.06 49.57L479.81 48.80L481.56 48.03L483.31 47.26L485.03 46.49L486.90 45.72L488.72 44.95L490.20 44.18L491.17 43.41L492.05 42.64L492.90 41.87L493.71 41.10L494.50 40.33L495.25 39.56L495.96 38.79L496.63 38.02L497.25 37.25L497.83 36.48L498.37 35.71L498.84 34.94L499.27 34.17L499.64 33.40L499.95 32.63L500.19 31.86L500.38 31.09L500.49 30.32L500.54 29.55L500.18 28.78L499.17 28.01L497.93 27.23L496.56 26.46L494.82 25.69L492.79 24.92L490.47 24.15L487.67 23.38L484.12 22.61L479.08 21.84L472.28 21.07L464.22 20.30L420.42 18.23L357.25 16.21"/>
<path d="M358.18 130.51L421.16 128.51L464.81 126.44L472.58 125.67L479.35 124.90L484.77 124.13L488.63 123.37L491.66 122.60L494.12 121.83L496.14 121.06L497.86 120.29L499.33 119.53L500.55 118.76L501.60 117.99L502.62 117.22L503.40 116.45L503.67 115.69L503.63 114.92L503.55 114.15L503.41 113.38L503.22 112.61L502.98 111.85L502.70 111.08L502.38 110.31L502.01 109.54L501.60 108.78L501.15 108.01L500.66 107.24L500.14 106.47L499.59 105.70L499.00 104.94L498.39 104.17L497.74 103.40L497.00 102.63L495.79 101.86L494.26 101.10L492.67 100.33L491.20 99.56L489.70 98.79L488.18 98.02L486.67 97.26L485.19 96.49L483.71 95.72L482.24 94.95L480.79 94.18L479.38 93.42L477.99 92.65L476.60 91.88L475.17 91.11L473.67 90.34L472.12 89.58L470.60 88.81L469.16 88.04L467.76 87.27L466.41 86.50L465.14 85.74L464.01 84.97L462.96 84.20L461.99 83.43L461.10 82.67L460.27 81.90L459.46 81.13L458.72 80.36L458.12 79.59L457.67 78.83L457.27 78.06L456.94 77.29L456.72 76.52L456.58 75.75L456.45 74.99L456.37 74.22L456.34 73.45L456.37 72.68L456.45 71.91L456.58 71.14L456.72 70.37L456.94 69.60L457.27 68.83L457.67 68.06L458.12 67.29L458.72 66.52L459.46 65.75L460.27 64.98L461.10 64.21L461.99 63.44L462.96 62.67L464.01 61.90L465.14 61.13L466.41 60.36L467.76 59.59L469.16 58.82L470.60 58.05L472.12 57.27L473.67 56.50L475.17 55.73L476.60 54.96L477.99 54.19L479.38 53.42L480.79 52.65L482.24 51.88L483.71 51.11L485.19 50.34L486.67 49.57L488.18 48.80L489.70 48.03L491.20 47.26L492.67 46.49L494.26 45.72L495.79 44.95L497.00 44.18L497.74 43.41L498.39 42.64L499.00 41.87L499.59 41.10L500.14 40.33L500.66 39.56L501.15 38.79L501.60 38.02L502.01 37.25L502.38 36.48L502.70 35.71L502.98 34.94L503.22 34.17L503.41 33.40L503.55 32.63L503.63 31.86L503.67 31.09L503.40 30.32L502.62 29.55L501.60 28.78L500.55 28.01L499.33 27.23L497.86 26.46L496.14 25.69L494.12 24.92L491.66 24.15L488.63 23.38L484.77 22.61L479.35 21.84L472.58 21.07L464.81 20.30L421.16 18.23L358.18 16.21"/>
<path d="M359.10 130.51L421.90 128.51L465.00 126.44L472.25 125.67L478.80 124.90L484.38 124.13L488.74 123.37L491.88 122.60L494.48 121.83L496.63 121.06L498.39 120.29L499.80 119.53L500.99 118.76L502.00 117.99L502.87 117.22L503.60 116.45L504.32 115.69L505.01 114.92L505.57 114.15L505.86 113.38L505.86 112.61L505.79 111.85L505.66 111.08L505.47 110.31L505.23 109.54L504.94 108.78L504.61 108.01L504.23 107.24L503.82 106.47L503.36 105.70L502.88 104.94L502.36 104.17L501.82 103.40L501.20 102.63L500.19 101.86L498.93 101.10L497.61 100.33L496.37 99.56L495.09 98.79L493.78 98.02L492.48 97.26L491.20 96.49L489.92 95.72L488.65 94.95L487.41 94.18L486.20 93.42L485.03 92.65L483.84 91.88L482.61 91.11L481.27 90.34L479.88 89.58L478.51 88.81L477.20 88.04L475.94 87.27L474.71 86.50L473.56 85.74L472.53 84.97L471.59 84.20L470.71 83.43L469.90 82.67L469.14 81.90L468.40 81.13L467.72 80.36L467.16 79.59L466.75 78.83L466.38 78.06L466.09 77.29L465.89 76.52L465.76 75.75L465.65 74.99L465.57 74.22L465.54 73.45L465.57 72.68L465.65 71.91L465.76 71.14L465.89 70.37L466.09 69.60L466.38 68.83L466.75 68.06L467.16 67.29L467.72 66.52L468.40 65.75L469.14 64.98L469.90 64.21L470.71 63.44L471.59 62.67L472.53 61.90L473.56 61.13L474.71 60.36L475.94 59.59L477.20 58.82L478.51 58.05L479.88 57.27L481.27 56.50L482.61 55.73L483.84 54.96L485.03 54.19L486.20 53.42L487.41 52.65L488.65 51.88L489.92 51.11L491.20 50.34L492.48 49.57L493.78 48.80L495.09 48.03L496.37 47.26L497.61 46.49L498.93 45.72L500.19 44.95L501.20 44.18L501.82 43.41L502.36 42.64L502.88 41.87L503.36 41.10L503.82 40.33L504.23 39.56L504.61 38.79L504.94 38.02L505.23 37.25L505.47 36.48L505.66 35.71L505.79 34.94L505.86 34.17L505.86 33.40L505.57 32.63L505.01 31.86L504.32 31.09L503.60 30.32L502.87 29.55L502.00 28.78L500.99 28.01L499.80 27.23L498.39 26.46L496.63 25.69L494.48 24.92L491.88 24.15L488.74 23.38L484.38 22.61L478.80 21.84L472.25 21.07L465.00 20.30L421.90 18.23L359.10 16.21"/>
<path d="M360.02 130.51L422.63 128.51L465.03 126.44L471.67 125.67L477.83 124.90L483.35 124.13L488.04 123.37L491.73 122.60L494.33 121.83L496.44 121.06L498.24 120.29L499.76 119.53L501.03 118.76L502.07 117.99L502.94 117.22L503.71 116.45L504.37 115.69L504.95 114.92L505.44 114.15L505.85 113.38L506.26 112.61L506.64 111.85L506.98 111.08L507.22 110.31L507.34 109.54L507.32 108.78L507.16 108.01L506.90 107.24L506.55 106.47L506.11 105.70L505.62 104.94L505.09 104.17L504.53 103.40L503.92 102.63L503.08 101.86L502.08 101.10L501.02 100.33L499.99 99.56L498.90 98.79L497.77 98.02L496.66 97.26L495.56 96.49L494.46 95.72L493.37 94.95L492.31 94.18L491.28 93.42L490.29 92.65L489.29 91.88L488.22 91.11L487.04 90.34L485.79 89.58L484.53 88.81L483.35 88.04L482.21 87.27L481.09 86.50L480.04 85.74L479.11 84.97L478.26 84.20L477.47 83.43L476.73 82.67L476.04 81.90L475.35 81.13L474.71 80.36L474.20 79.59L473.82 78.83L473.49 78.06L473.22 77.29L473.03 76.52L472.92 75.75L472.82 74.99L472.75 74.22L472.73 73.45L472.75 72.68L472.82 71.91L472.92 71.14L473.03 70.37L473.22 69.60L473.49 68.83L473.82 68.06L474.20 67.29L474.71 66.52L475.35 65.75L476.04 64.98L476.73 64.21L477.47 63.44L478.26 62.67L479.11 61.90L480.04 61.13L481.09 60.36L482.21 59.59L483.35 58.82L484.53 58.05L485.79 57.27L487.04 56.50L488.22 55.73L489.29 54.96L490.29 54.19L491.28 53.42L492.31 52.65L493.37 51.88L494.46 51.11L495.56 50.34L496.66 49.57L497.77 48.80L498.90 48.03L499.99 47.26L501.02 46.49L502.08 45.72L503.08 44.95L503.92 44.18L504.53 43.41L505.09 42.64L505.62 41.87L506.11 41.10L506.55 40.33L506.90 39.56L507.16 38.79L507.32 38.02L507.34 37.25L507.22 36.48L506.98 35.71L506.64 34.94L506.26 34.17L505.85 33.40L505.44 32.63L504.95 31.86L504.37 31.09L503.71 30.32L502.94 29.55L502.07 28.78L501.03 28.01L499.76 27.23L498.24 26.46L496.44 25.69L494.33 24.92L491.73 24.15L488.04 23.38L483.35 22.61L477.83 21.84L471.67 21.07L465.03 20.30L422.63 18.23L360.02 16.21"/>
</g>
<text x="430.5" y="8.7" text-anchor="middle" textLength="200.4" lengthAdjust="spacingAndGlyphs">Wall square-wave excitation and rectified-sine PG (2nd Period)</text>
<text x="430" y="149.6" text-anchor="middle" textLength="88.4" lengthAdjust="spacingAndGlyphs">Nondimensional velocity [-]</text>
<path d="M55.25 179.20V298.40M83.00 179.20V298.40M110.75 179.20V298.40M138.50 179.20V298.40M166.25 179.20V298.40M194.00 179.20V298.40M221.75 179.20V298.40M27.50 278.53H249.50M27.50 258.67H249.50M27.50 238.80H249.50M27.50 218.93H249.50M27.50 199.07H249.50" fill="none" stroke="#000" stroke-width="0.55" stroke-dasharray="0.75 1.7" opacity="0.8"/>
<path d="M27.50 298.40v-2.3M27.50 179.20v2.3M55.25 298.40v-2.3M55.25 179.20v2.3M83.00 298.40v-2.3M83.00 179.20v2.3M110.75 298.40v-2.3M110.75 179.20v2.3M138.50 298.40v-2.3M138.50 179.20v2.3M166.25 298.40v-2.3M166.25 179.20v2.3M194.00 298.40v-2.3M194.00 179.20v2.3M221.75 298.40v-2.3M221.75 179.20v2.3M249.50 298.40v-2.3M249.50 179.20v2.3M27.50 298.40h2.3M249.50 298.40h-2.3M27.50 278.53h2.3M249.50 278.53h-2.3M27.50 258.67h2.3M249.50 258.67h-2.3M27.50 238.80h2.3M249.50 238.80h-2.3M27.50 218.93h2.3M249.50 218.93h-2.3M27.50 199.07h2.3M249.50 199.07h-2.3M27.50 179.20h2.3M249.50 179.20h-2.3" fill="none" stroke="#000" stroke-width="0.62"/>
<rect x="27.5" y="179.2" width="222.0" height="119.19999999999999" fill="none" stroke="#000" stroke-width="0.62"/>
<text x="27.50" y="306.70" text-anchor="middle">0</text>
<text x="55.25" y="306.70" text-anchor="middle">2</text>
<text x="83.00" y="306.70" text-anchor="middle">4</text>
<text x="110.75" y="306.70" text-anchor="middle">6</text>
<text x="138.50" y="306.70" text-anchor="middle">8</text>
<text x="166.25" y="306.70" text-anchor="middle">10</text>
<text x="194.00" y="306.70" text-anchor="middle">12</text>
<text x="221.75" y="306.70" text-anchor="middle">14</text>
<text x="249.50" y="306.70" text-anchor="middle">16</text>
<text x="24.50" y="300.90" text-anchor="end">-8</text>
<text x="24.50" y="281.03" text-anchor="end">-6</text>
<text x="24.50" y="261.17" text-anchor="end">-4</text>
<text x="24.50" y="241.30" text-anchor="end">-2</text>
<text x="24.50" y="221.43" text-anchor="end">0</text>
<text x="24.50" y="201.57" text-anchor="end">2</text>
<text x="24.50" y="181.70" text-anchor="end">4</text>
<clipPath id="c3"><rect x="27.5" y="179.2" width="222.0" height="119.19999999999999"/></clipPath>
<path clip-path="url(#c3)" d="M27.50 215.99L27.78 214.89L28.05 213.68L28.33 212.69L28.61 211.89L28.89 211.19L29.16 210.56L29.44 209.97L29.72 209.42L30.00 208.91L30.27 208.43L30.55 207.97L30.83 207.54L31.11 207.13L31.39 206.74L31.66 206.37L31.94 206.02L32.22 205.68L32.49 205.36L32.77 205.06L33.05 204.77L33.33 204.50L33.61 204.24L33.88 203.99L34.16 203.75L34.44 203.52L34.72 203.31L34.99 203.11L35.27 202.91L35.55 202.73L35.83 202.55L36.10 202.38L36.38 202.22L36.66 202.07L36.94 201.93L37.21 201.79L37.49 201.66L37.77 201.53L38.05 201.41L38.32 201.30L38.60 201.19L38.88 201.09L39.16 200.99L39.43 200.90L39.71 200.81L39.99 200.73L40.27 200.65L40.54 200.57L40.82 200.50L41.10 200.43L41.38 200.36L41.65 200.30L41.93 200.24L42.21 200.19L42.48 200.13L42.76 200.08L43.04 200.03L43.32 199.99L43.59 199.94L43.87 199.90L44.15 199.86L44.43 199.82L44.70 199.78L44.98 199.75L45.26 199.72L45.54 199.69L45.81 199.66L46.09 199.63L46.37 199.60L46.65 199.57L46.92 199.55L47.20 199.53L47.48 199.51L47.76 199.48L48.03 199.46L48.31 199.44L48.59 199.43L48.87 199.41L49.14 199.39L49.42 199.38L49.70 199.36L49.98 199.35L50.26 199.33L50.53 199.32L50.81 199.31L51.09 199.30L51.36 199.29L51.64 199.28L51.92 199.27L52.20 199.26L52.48 199.25L52.75 199.24L53.03 199.23L53.31 199.22L53.59 199.21L53.86 199.21L54.14 199.20L54.42 199.19L54.70 199.19L54.97 199.18L55.25 199.18L55.53 199.17L55.80 199.17L56.08 199.16L56.36 199.16L56.64 199.15L56.92 199.15L57.19 199.14L57.47 199.14L57.75 199.14L58.03 199.13L58.30 199.13L58.58 199.13L58.86 199.12L59.14 199.12L59.41 199.12L59.69 199.12L59.97 199.11L60.24 199.11L60.52 199.11L60.80 199.11L61.08 199.11L61.35 199.10L61.63 199.10L61.91 199.10L62.19 199.10L62.47 199.10L62.74 199.10L63.02 199.09L63.30 199.09L63.58 199.09L63.85 199.09L64.13 199.09L64.41 199.09L64.69 199.09L64.96 199.09L65.24 199.09L65.52 199.08L65.80 199.08L66.07 199.08L66.35 199.08L66.63 199.08L66.91 199.08L67.18 199.08L67.46 199.08L67.74 199.08L68.02 199.08L68.29 199.08L68.57 199.08L68.85 199.08L69.12 199.08L69.40 199.08L69.68 199.08L69.96 199.07L70.23 199.07L70.51 199.07L70.79 199.07L71.07 199.07L71.34 199.07L71.62 199.07L71.90 199.07L72.18 199.07L72.46 199.07L72.73 199.07L73.01 199.07L73.29 199.07L73.56 199.07L73.84 199.07L74.12 199.07L74.40 199.07L74.67 199.07L74.95 199.07L75.23 199.07L75.51 199.07L75.78 199.07L76.06 199.07L76.34 199.07L76.62 199.07L76.90 199.07L77.17 199.07L77.45 199.07L77.73 199.07L78.00 199.07L78.28 199.07L78.56 199.07L78.84 199.07L79.12 199.07L79.39 199.07L79.67 199.07L79.95 199.07L80.22 199.07L80.50 199.07L80.78 199.07L81.06 199.07L81.34 199.07L81.61 199.07L81.89 199.07L82.17 199.07L82.44 199.07L82.72 199.07L83.00 199.07L83.28 199.07L83.56 199.07L83.83 199.07L84.11 199.07L84.39 199.07L84.66 199.07L84.94 199.07L85.22 199.07L85.50 199.07L85.78 199.07L86.05 199.07L86.33 199.07L86.61 199.07L86.89 199.07L87.16 199.07L87.44 199.07L87.72 199.07L88.00 199.07L88.27 199.07L88.55 199.07L88.83 199.07L89.11 199.07L89.38 199.07L89.66 199.07L89.94 199.07L90.22 199.07L90.49 199.07L90.77 199.07L91.05 199.07L91.33 199.07L91.60 199.07L91.88 199.07L92.16 199.07L92.44 199.07L92.71 199.07L92.99 199.07L93.27 199.07L93.55 199.07L93.82 199.07L94.10 199.07L94.38 199.06L94.66 199.03L94.93 198.96L95.21 198.79L95.49 198.49L95.77 198.11L96.04 197.78L96.32 197.68L96.60 197.99L96.88 201.20L97.15 204.45L97.43 208.57L97.71 213.40L97.98 218.85L98.26 224.85L98.54 229.96L98.82 233.99L99.09 237.52L99.37 240.72L99.65 243.66L99.93 246.41L100.20 248.98L100.48 251.40L100.76 253.69L101.04 255.86L101.31 257.92L101.59 259.88L101.87 261.74L102.15 263.51L102.43 265.19L102.70 266.79L102.98 268.31L103.26 269.76L103.54 271.14L103.81 272.45L104.09 273.70L104.37 274.89L104.65 276.03L104.92 277.10L105.20 278.13L105.48 279.10L105.75 280.03L106.03 280.92L106.31 281.76L106.59 282.56L106.86 283.32L107.14 284.05L107.42 284.74L107.70 285.40L107.97 286.02L108.25 286.62L108.53 287.19L108.81 287.73L109.08 288.24L109.36 288.73L109.64 289.20L109.92 289.64L110.19 290.06L110.47 290.46L110.75 290.84L111.03 291.21L111.31 291.55L111.58 291.88L111.86 292.20L112.14 292.50L112.42 292.78L112.69 293.05L112.97 293.31L113.25 293.55L113.53 293.79L113.80 294.01L114.08 293.89L114.36 291.81L114.64 288.59L114.91 284.53L115.19 279.76L115.47 274.38L115.75 268.47L116.02 263.83L116.30 260.04L116.58 256.71L116.86 253.69L117.13 250.90L117.41 248.30L117.69 245.87L117.97 243.58L118.24 241.41L118.52 239.35L118.80 237.40L119.08 235.55L119.35 233.79L119.63 232.11L119.91 230.52L120.19 229.00L120.46 227.56L120.74 226.19L121.02 224.88L121.30 223.64L121.57 222.46L121.85 221.33L122.13 220.26L122.41 219.24L122.68 218.27L122.96 217.34L123.24 216.46L123.52 215.62L123.79 214.83L124.07 214.07L124.35 213.35L124.62 212.66L124.90 212.00L125.18 211.38L125.46 210.79L125.73 210.22L126.01 209.69L126.29 209.17L126.57 208.69L126.84 208.22L127.12 207.78L127.40 207.36L127.68 206.96L127.95 206.58L128.23 206.22L128.51 205.88L128.79 205.55L129.06 205.24L129.34 204.94L129.62 204.66L129.90 204.39L130.18 204.13L130.45 203.89L130.73 203.66L131.01 203.44L131.29 203.22L131.56 203.02L131.84 202.83L132.12 202.65L132.40 202.48L132.67 202.32L132.95 202.16L133.23 202.01L133.50 201.87L133.78 201.73L134.06 201.61L134.34 201.48L134.62 201.37L134.89 201.26L135.17 201.15L135.45 201.05L135.72 200.95L136.00 200.86L136.28 200.78L136.56 200.69L136.83 200.62L137.11 200.54L137.39 200.47L137.67 200.40L137.94 200.34L138.22 200.28L138.50 200.22L138.78 200.16L139.06 200.11L139.33 200.06L139.61 200.01L139.89 199.97L140.17 199.92L140.44 199.88L140.72 199.84L141.00 199.81L141.27 199.77L141.55 199.74L141.83 199.70L142.11 199.67L142.38 199.64L142.66 199.62L142.94 199.59L143.22 199.56L143.50 199.54L143.77 199.52L144.05 199.50L144.33 199.48L144.60 199.46L144.88 199.44L145.16 199.42L145.44 199.40L145.71 199.39L145.99 199.37L146.27 199.36L146.55 199.34L146.82 199.33L147.10 199.32L147.38 199.30L147.66 199.29L147.94 199.28L148.21 199.27L148.49 199.26L148.77 199.25L149.05 199.24L149.32 199.23L149.60 199.23L149.88 199.22L150.16 199.21L150.43 199.20L150.71 199.20L150.99 199.19L151.26 199.19L151.54 199.18L151.82 199.17L152.10 199.17L152.38 199.16L152.65 199.16L152.93 199.16L153.21 199.15L153.49 199.15L153.76 199.14L154.04 199.14L154.32 199.14L154.59 199.13L154.87 199.13L155.15 199.13L155.43 199.12L155.71 199.12L155.98 199.12L156.26 199.12L156.54 199.11L156.81 199.11L157.09 199.11L157.37 199.11L157.65 199.10L157.93 199.10L158.20 199.10L158.48 199.10L158.76 199.10L159.03 199.10L159.31 199.10L159.59 199.09L159.87 199.09L160.15 199.09L160.42 199.09L160.70 199.09L160.98 199.09L161.25 199.09L161.53 199.09L161.81 199.08L162.09 199.08L162.37 199.08L162.64 199.08L162.92 199.08L163.20 199.08L163.48 199.08L163.75 199.08L164.03 199.08L164.31 199.08L164.59 199.08L164.86 199.08L165.14 199.08L165.42 199.08L165.70 199.08L165.97 199.08L166.25 199.07L166.53 199.07L166.81 199.07L167.08 199.07L167.36 199.07L167.64 199.07L167.92 199.07L168.19 199.07L168.47 199.07L168.75 199.07L169.03 199.07L169.30 199.07L169.58 199.07L169.86 199.07L170.13 199.07L170.41 199.07L170.69 199.07L170.97 199.07L171.25 199.07L171.52 199.07L171.80 199.07L172.08 199.07L172.35 199.07L172.63 199.07L172.91 199.07L173.19 199.07L173.47 199.07L173.74 199.07L174.02 199.07L174.30 199.07L174.57 199.07L174.85 199.07L175.13 199.07L175.41 199.07L175.69 199.07L175.96 199.07L176.24 199.07L176.52 199.07L176.79 199.07L177.07 199.07L177.35 199.07L177.63 199.07L177.91 199.07L178.18 199.07L178.46 199.07L178.74 199.07L179.01 199.07L179.29 199.07L179.57 199.07L179.85 199.07L180.12 199.07L180.40 199.07L180.68 199.07L180.96 199.07L181.24 199.07L181.51 199.06L181.79 199.04L182.07 198.98L182.34 198.83L182.62 198.55L182.90 198.17L183.18 197.82L183.46 197.68L183.73 197.83L184.01 200.78L184.29 203.87L184.56 207.86L184.84 212.59L185.12 217.94L185.40 223.86L185.68 229.25L185.95 233.39L186.23 236.98L186.51 240.23L186.78 243.21L187.06 245.98L187.34 248.58L187.62 251.03L187.90 253.34L188.17 255.53L188.45 257.60L188.73 259.58L189.00 261.45L189.28 263.23L189.56 264.93L189.84 266.54L190.12 268.08L190.39 269.54L190.67 270.93L190.95 272.25L191.23 273.51L191.50 274.71L191.78 275.85L192.06 276.93L192.34 277.97L192.61 278.95L192.89 279.89L193.17 280.78L193.45 281.63L193.72 282.44L194.00 283.20L194.28 283.94L194.56 284.63L194.83 285.30L195.11 285.93L195.39 286.53L195.67 287.10L195.94 287.64L196.22 288.16L196.50 288.65L196.78 289.12L197.05 289.57L197.33 289.99L197.61 290.40L197.89 290.78L198.16 291.15L198.44 291.50L198.72 291.83L199.00 292.15L199.27 292.45L199.55 292.74L199.83 293.01L200.10 293.27L200.38 293.52L200.66 293.75L200.94 293.97L201.22 294.06L201.49 292.23L201.77 289.17L202.05 285.23L202.32 280.57L202.60 275.28L202.88 269.43L203.16 264.49L203.44 260.61L203.71 257.21L203.99 254.15L204.27 251.33L204.54 248.71L204.82 246.25L205.10 243.93L205.38 241.74L205.66 239.67L205.93 237.70L206.21 235.84L206.49 234.06L206.76 232.37L207.04 230.77L207.32 229.24L207.60 227.79L207.88 226.40L208.15 225.09L208.43 223.83L208.71 222.64L208.99 221.51L209.26 220.42L209.54 219.40L209.82 218.42L210.09 217.49L210.37 216.60L210.65 215.75L210.93 214.95L211.21 214.19L211.48 213.46L211.76 212.77L212.04 212.11L212.31 211.48L212.59 210.88L212.87 210.31L213.15 209.77L213.43 209.25L213.70 208.76L213.98 208.30L214.26 207.85L214.53 207.43L214.81 207.03L215.09 206.64L215.37 206.28L215.65 205.93L215.92 205.60L216.20 205.29L216.48 204.99L216.75 204.70L217.03 204.43L217.31 204.17L217.59 203.93L217.87 203.69L218.14 203.47L218.42 203.26L218.70 203.06L218.98 202.86L219.25 202.68L219.53 202.51L219.81 202.34L220.09 202.18L220.36 202.03L220.64 201.89L220.92 201.75L221.20 201.63L221.47 201.50L221.75 201.38L222.03 201.27L222.31 201.17L222.58 201.07L222.86 200.97L223.14 200.88L223.42 200.79L223.69 200.71L223.97 200.63L224.25 200.55L224.53 200.48L224.80 200.41L225.08 200.35L225.36 200.29L225.64 200.23L225.91 200.17L226.19 200.12L226.47 200.07L226.75 200.02L227.02 199.97L227.30 199.93L227.58 199.89L227.85 199.85L228.13 199.81L228.41 199.78L228.69 199.74L228.97 199.71L229.24 199.68L229.52 199.65L229.80 199.62L230.07 199.59L230.35 199.57L230.63 199.54L230.91 199.52L231.19 199.50L231.46 199.48L231.74 199.46L232.02 199.44L232.29 199.42L232.57 199.40L232.85 199.39L233.13 199.37L233.41 199.36L233.68 199.34L233.96 199.33L234.24 199.32L234.51 199.31L234.79 199.29L235.07 199.28L235.35 199.27L235.62 199.26L235.90 199.25L236.18 199.24L236.46 199.24L236.74 199.23L237.01 199.22L237.29 199.21L237.57 199.21L237.84 199.20L238.12 199.19L238.40 199.19L238.68 199.18L238.96 199.18L239.23 199.17L239.51 199.17L239.79 199.16L240.06 199.16L240.34 199.15L240.62 199.15L240.90 199.14L241.18 199.14L241.45 199.14L241.73 199.13L242.01 199.13L242.28 199.13L242.56 199.12L242.84 199.12L243.12 199.12L243.40 199.12L243.67 199.11L243.95 199.11L244.23 199.11L244.50 199.11L244.78 199.11L245.06 199.10L245.34 199.10L245.62 199.10L245.89 199.10L246.17 199.10L246.45 199.10L246.73 199.09L247.00 199.09L247.28 199.09L247.56 199.09L247.84 199.09L248.11 199.09L248.39 199.09L248.67 199.09L248.95 199.09L249.22 199.08L249.50 199.08" fill="none" stroke="#000" stroke-width="1.15" stroke-linejoin="round"/>
<text x="138.5" y="173.5" text-anchor="middle" textLength="159" lengthAdjust="spacingAndGlyphs">Wall square-wave excitation and rectified-sine PG</text>
<text x="138.5" y="315.5" text-anchor="middle" textLength="78.6" lengthAdjust="spacingAndGlyphs">Nondimensional Time [-]</text>
<text transform="translate(14.3 238.1) rotate(-90)" text-anchor="middle" textLength="122.2" lengthAdjust="spacingAndGlyphs">Nondimensional Volume Flow Rate [-]</text>
<path d="M347.12 179.20V298.40M374.75 179.20V298.40M402.38 179.20V298.40M430.00 179.20V298.40M457.62 179.20V298.40M485.25 179.20V298.40M512.88 179.20V298.40M319.50 278.53H540.50M319.50 258.67H540.50M319.50 238.80H540.50M319.50 218.93H540.50M319.50 199.07H540.50" fill="none" stroke="#000" stroke-width="0.55" stroke-dasharray="0.75 1.7" opacity="0.8"/>
<path d="M319.50 298.40v-2.3M319.50 179.20v2.3M347.12 298.40v-2.3M347.12 179.20v2.3M374.75 298.40v-2.3M374.75 179.20v2.3M402.38 298.40v-2.3M402.38 179.20v2.3M430.00 298.40v-2.3M430.00 179.20v2.3M457.62 298.40v-2.3M457.62 179.20v2.3M485.25 298.40v-2.3M485.25 179.20v2.3M512.88 298.40v-2.3M512.88 179.20v2.3M540.50 298.40v-2.3M540.50 179.20v2.3M319.50 298.40h2.3M540.50 298.40h-2.3M319.50 278.53h2.3M540.50 278.53h-2.3M319.50 258.67h2.3M540.50 258.67h-2.3M319.50 238.80h2.3M540.50 238.80h-2.3M319.50 218.93h2.3M540.50 218.93h-2.3M319.50 199.07h2.3M540.50 199.07h-2.3M319.50 179.20h2.3M540.50 179.20h-2.3" fill="none" stroke="#000" stroke-width="0.62"/>
<rect x="319.5" y="179.2" width="221.0" height="119.19999999999999" fill="none" stroke="#000" stroke-width="0.62"/>
<text x="319.50" y="306.70" text-anchor="middle">0</text>
<text x="347.12" y="306.70" text-anchor="middle">2</text>
<text x="374.75" y="306.70" text-anchor="middle">4</text>
<text x="402.38" y="306.70" text-anchor="middle">6</text>
<text x="430.00" y="306.70" text-anchor="middle">8</text>
<text x="457.62" y="306.70" text-anchor="middle">10</text>
<text x="485.25" y="306.70" text-anchor="middle">12</text>
<text x="512.88" y="306.70" text-anchor="middle">14</text>
<text x="540.50" y="306.70" text-anchor="middle">16</text>
<text x="316.20" y="300.90" text-anchor="end">-2</text>
<text x="316.20" y="281.03" text-anchor="end">0</text>
<text x="316.20" y="261.17" text-anchor="end">2</text>
<text x="316.20" y="241.30" text-anchor="end">4</text>
<text x="316.20" y="221.43" text-anchor="end">6</text>
<text x="316.20" y="201.57" text-anchor="end">8</text>
<text x="316.20" y="181.70" text-anchor="end">10</text>
<clipPath id="c4"><rect x="319.5" y="179.2" width="221.0" height="119.19999999999999"/></clipPath>
<path clip-path="url(#c4)" d="M319.50 278.43L319.78 278.36L320.05 278.27L320.33 278.16L320.61 278.02L320.88 277.87L321.16 277.71L321.43 277.54L321.71 277.35L321.99 277.16L322.26 276.95L322.54 276.74L322.81 276.52L323.09 276.28L323.37 276.04L323.64 275.80L323.92 275.54L324.20 275.28L324.47 275.01L324.75 274.74L325.02 274.46L325.30 274.17L325.58 273.88L325.85 273.58L326.13 273.28L326.41 272.98L326.68 272.67L326.96 272.35L327.24 272.03L327.51 271.71L327.79 271.38L328.06 271.05L328.34 270.72L328.62 270.39L328.89 270.05L329.17 269.71L329.44 269.36L329.72 269.01L330.00 268.67L330.27 268.31L330.55 267.96L330.83 267.60L331.10 267.25L331.38 266.89L331.65 266.53L331.93 266.16L332.21 265.80L332.48 265.43L332.76 265.06L333.04 264.69L333.31 264.32L333.59 263.95L333.87 263.58L334.14 263.20L334.42 262.83L334.69 262.45L334.97 262.07L335.25 261.70L335.52 261.32L335.80 260.94L336.07 260.55L336.35 260.17L336.63 259.79L336.90 259.41L337.18 259.02L337.46 258.64L337.73 258.25L338.01 257.87L338.29 257.48L338.56 257.09L338.84 256.71L339.11 256.32L339.39 255.93L339.67 255.54L339.94 255.15L340.22 254.76L340.50 254.37L340.77 253.98L341.05 253.59L341.32 253.20L341.60 252.81L341.88 252.42L342.15 252.03L342.43 251.63L342.70 251.24L342.98 250.85L343.26 250.46L343.53 250.06L343.81 249.67L344.09 249.28L344.36 248.88L344.64 248.49L344.92 248.09L345.19 247.70L345.47 247.31L345.74 246.91L346.02 246.52L346.30 246.12L346.57 245.73L346.85 245.33L347.12 244.94L347.40 244.54L347.68 244.15L347.95 243.75L348.23 243.36L348.51 242.96L348.78 242.56L349.06 242.17L349.33 241.77L349.61 241.38L349.89 240.98L350.16 240.59L350.44 240.19L350.72 239.79L350.99 239.40L351.27 239.00L351.55 238.60L351.82 238.21L352.10 237.81L352.37 237.42L352.65 237.02L352.93 236.62L353.20 236.23L353.48 235.83L353.75 235.43L354.03 235.04L354.31 234.64L354.58 234.24L354.86 233.85L355.14 233.45L355.41 233.05L355.69 232.66L355.97 232.26L356.24 231.86L356.52 231.46L356.79 231.07L357.07 230.67L357.35 230.27L357.62 229.88L357.90 229.48L358.18 229.08L358.45 228.69L358.73 228.29L359.00 227.89L359.28 227.49L359.56 227.10L359.83 226.70L360.11 226.30L360.38 225.91L360.66 225.51L360.94 225.11L361.21 224.71L361.49 224.32L361.77 223.92L362.04 223.52L362.32 223.13L362.60 222.73L362.87 222.33L363.15 221.93L363.42 221.54L363.70 221.14L363.98 220.74L364.25 220.35L364.53 219.95L364.81 219.55L365.08 219.15L365.36 218.76L365.63 218.36L365.91 217.96L366.19 217.56L366.46 217.17L366.74 216.77L367.01 216.37L367.29 215.98L367.57 215.58L367.84 215.18L368.12 214.78L368.40 214.39L368.67 213.99L368.95 213.59L369.23 213.19L369.50 212.80L369.78 212.40L370.05 212.00L370.33 211.61L370.61 211.21L370.88 210.81L371.16 210.41L371.44 210.02L371.71 209.62L371.99 209.22L372.26 208.82L372.54 208.43L372.82 208.03L373.09 207.63L373.37 207.24L373.64 206.84L373.92 206.44L374.20 206.04L374.47 205.65L374.75 205.25L375.03 204.85L375.30 204.45L375.58 204.06L375.86 203.66L376.13 203.26L376.41 202.86L376.68 202.47L376.96 202.07L377.24 201.67L377.51 201.28L377.79 200.88L378.06 200.48L378.34 200.08L378.62 199.69L378.89 199.29L379.17 198.89L379.45 198.49L379.72 198.10L380.00 197.70L380.27 197.30L380.55 196.90L380.83 196.51L381.10 196.11L381.38 195.71L381.66 195.32L381.93 194.92L382.21 194.52L382.49 194.12L382.76 193.73L383.04 193.33L383.31 192.93L383.59 192.53L383.87 192.14L384.14 191.74L384.42 191.34L384.69 190.94L384.97 190.55L385.25 190.15L385.52 189.75L385.80 189.36L386.08 188.96L386.35 188.56L386.63 188.16L386.90 187.77L387.18 187.37L387.46 186.97L387.73 186.57L388.01 186.18L388.29 185.78L388.56 185.40L388.84 185.08L389.12 184.83L389.39 184.67L389.67 184.61L389.94 184.67L390.22 184.84L390.50 185.10L390.77 185.44L391.05 185.84L391.32 186.31L391.60 186.83L391.88 187.41L392.15 188.03L392.43 188.71L392.71 189.42L392.98 190.18L393.26 190.98L393.54 191.82L393.81 192.69L394.09 193.60L394.36 194.54L394.64 195.52L394.92 196.52L395.19 197.55L395.47 198.61L395.75 199.69L396.02 200.80L396.30 201.93L396.57 203.08L396.85 204.25L397.13 205.45L397.40 206.66L397.68 207.89L397.95 209.14L398.23 210.40L398.51 211.68L398.78 212.98L399.06 214.29L399.34 215.61L399.61 216.95L399.89 218.29L400.16 219.65L400.44 221.02L400.72 222.41L400.99 223.80L401.27 225.20L401.55 226.61L401.82 228.03L402.10 229.45L402.38 230.89L402.65 232.33L402.93 233.78L403.20 235.23L403.48 236.70L403.76 238.16L404.03 239.64L404.31 241.12L404.59 242.60L404.86 244.09L405.14 245.59L405.41 247.09L405.69 248.59L405.97 250.07L406.24 251.50L406.52 252.85L406.80 254.12L407.07 255.28L407.35 256.33L407.62 257.27L407.90 258.13L408.18 258.92L408.45 259.64L408.73 260.31L409.00 260.92L409.28 261.49L409.56 262.00L409.83 262.47L410.11 262.90L410.39 263.29L410.66 263.64L410.94 263.96L411.22 264.24L411.49 264.48L411.77 264.70L412.04 264.89L412.32 265.05L412.60 265.18L412.87 265.28L413.15 265.37L413.43 265.43L413.70 265.46L413.98 265.48L414.25 265.47L414.53 265.45L414.81 265.41L415.08 265.35L415.36 265.28L415.63 265.19L415.91 265.09L416.19 264.97L416.46 264.83L416.74 264.69L417.02 264.53L417.29 264.36L417.57 264.18L417.85 263.99L418.12 263.79L418.40 263.58L418.67 263.37L418.95 263.14L419.23 262.90L419.50 262.66L419.78 262.41L420.06 262.15L420.33 261.89L420.61 261.62L420.88 261.34L421.16 261.06L421.44 260.77L421.71 260.48L421.99 260.18L422.26 259.87L422.54 259.57L422.82 259.25L423.09 258.94L423.37 258.62L423.65 258.29L423.92 257.97L424.20 257.64L424.48 257.30L424.75 256.96L425.03 256.62L425.30 256.28L425.58 255.94L425.86 255.59L426.13 255.24L426.41 254.89L426.69 254.53L426.96 254.17L427.24 253.82L427.51 253.46L427.79 253.09L428.07 252.73L428.34 252.36L428.62 252.00L428.89 251.63L429.17 251.26L429.45 250.89L429.72 250.51L430.00 250.14L430.28 249.77L430.55 249.39L430.83 249.01L431.11 248.64L431.38 248.26L431.66 247.88L431.93 247.50L432.21 247.11L432.49 246.73L432.76 246.35L433.04 245.97L433.31 245.58L433.59 245.20L433.87 244.81L434.14 244.43L434.42 244.04L434.70 243.65L434.97 243.26L435.25 242.88L435.52 242.49L435.80 242.10L436.08 241.71L436.35 241.32L436.63 240.93L436.91 240.54L437.18 240.15L437.46 239.76L437.74 239.37L438.01 238.97L438.29 238.58L438.56 238.19L438.84 237.80L439.12 237.40L439.39 237.01L439.67 236.62L439.94 236.23L440.22 235.83L440.50 235.44L440.77 235.04L441.05 234.65L441.33 234.26L441.60 233.86L441.88 233.47L442.16 233.07L442.43 232.68L442.71 232.28L442.98 231.89L443.26 231.49L443.54 231.10L443.81 230.70L444.09 230.31L444.37 229.91L444.64 229.52L444.92 229.12L445.19 228.72L445.47 228.33L445.75 227.93L446.02 227.54L446.30 227.14L446.58 226.74L446.85 226.35L447.13 225.95L447.40 225.56L447.68 225.16L447.96 224.76L448.23 224.37L448.51 223.97L448.78 223.57L449.06 223.18L449.34 222.78L449.61 222.38L449.89 221.99L450.17 221.59L450.44 221.19L450.72 220.80L451.00 220.40L451.27 220.00L451.55 219.61L451.82 219.21L452.10 218.81L452.38 218.42L452.65 218.02L452.93 217.62L453.20 217.22L453.48 216.83L453.76 216.43L454.03 216.03L454.31 215.64L454.59 215.24L454.86 214.84L455.14 214.45L455.41 214.05L455.69 213.65L455.97 213.25L456.24 212.86L456.52 212.46L456.80 212.06L457.07 211.67L457.35 211.27L457.62 210.87L457.90 210.47L458.18 210.08L458.45 209.68L458.73 209.28L459.01 208.89L459.28 208.49L459.56 208.09L459.84 207.69L460.11 207.30L460.39 206.90L460.66 206.50L460.94 206.10L461.22 205.71L461.49 205.31L461.77 204.91L462.05 204.52L462.32 204.12L462.60 203.72L462.87 203.32L463.15 202.93L463.43 202.53L463.70 202.13L463.98 201.74L464.25 201.34L464.53 200.94L464.81 200.54L465.08 200.15L465.36 199.75L465.64 199.35L465.91 198.95L466.19 198.56L466.47 198.16L466.74 197.76L467.02 197.36L467.29 196.97L467.57 196.57L467.85 196.17L468.12 195.78L468.40 195.38L468.68 194.98L468.95 194.58L469.23 194.19L469.50 193.79L469.78 193.39L470.06 192.99L470.33 192.60L470.61 192.20L470.88 191.80L471.16 191.41L471.44 191.01L471.71 190.61L471.99 190.21L472.27 189.82L472.54 189.42L472.82 189.02L473.10 188.62L473.37 188.23L473.65 187.83L473.92 187.43L474.20 187.03L474.48 186.64L474.75 186.24L475.03 185.84L475.30 185.46L475.58 185.13L475.86 184.86L476.13 184.69L476.41 184.61L476.69 184.65L476.96 184.81L477.24 185.06L477.51 185.38L477.79 185.78L478.07 186.23L478.34 186.75L478.62 187.31L478.90 187.93L479.17 188.60L479.45 189.31L479.73 190.06L480.00 190.85L480.28 191.68L480.55 192.55L480.83 193.46L481.11 194.39L481.38 195.36L481.66 196.36L481.94 197.38L482.21 198.44L482.49 199.51L482.76 200.62L483.04 201.75L483.32 202.89L483.59 204.07L483.87 205.26L484.14 206.47L484.42 207.69L484.70 208.94L484.97 210.20L485.25 211.48L485.53 212.77L485.80 214.08L486.08 215.40L486.36 216.73L486.63 218.08L486.91 219.44L487.18 220.81L487.46 222.18L487.74 223.57L488.01 224.97L488.29 226.38L488.56 227.80L488.84 229.22L489.12 230.66L489.39 232.10L489.67 233.55L489.95 235.00L490.22 236.46L490.50 237.93L490.77 239.40L491.05 240.88L491.33 242.37L491.60 243.85L491.88 245.35L492.16 246.85L492.43 248.35L492.71 249.84L492.99 251.27L493.26 252.64L493.54 253.92L493.81 255.10L494.09 256.17L494.37 257.13L494.64 258.00L494.92 258.80L495.20 259.53L495.47 260.21L495.75 260.83L496.02 261.40L496.30 261.92L496.58 262.40L496.85 262.84L497.13 263.23L497.40 263.59L497.68 263.91L497.96 264.19L498.23 264.45L498.51 264.67L498.79 264.86L499.06 265.02L499.34 265.16L499.62 265.27L499.89 265.35L500.17 265.42L500.44 265.46L500.72 265.48L501.00 265.48L501.27 265.46L501.55 265.42L501.83 265.36L502.10 265.29L502.38 265.20L502.65 265.10L502.93 264.99L503.21 264.86L503.48 264.71L503.76 264.56L504.03 264.39L504.31 264.21L504.59 264.03L504.86 263.83L505.14 263.62L505.42 263.40L505.69 263.18L505.97 262.94L506.25 262.70L506.52 262.45L506.80 262.19L507.07 261.93L507.35 261.66L507.63 261.38L507.90 261.10L508.18 260.81L508.45 260.52L508.73 260.22L509.01 259.92L509.28 259.61L509.56 259.30L509.84 258.99L510.11 258.67L510.39 258.35L510.66 258.02L510.94 257.69L511.22 257.35L511.49 257.02L511.77 256.68L512.05 256.34L512.32 255.99L512.60 255.64L512.88 255.29L513.15 254.94L513.43 254.59L513.70 254.23L513.98 253.87L514.26 253.51L514.53 253.15L514.81 252.79L515.09 252.42L515.36 252.06L515.64 251.69L515.91 251.32L516.19 250.95L516.47 250.57L516.74 250.20L517.02 249.83L517.30 249.45L517.57 249.07L517.85 248.70L518.12 248.32L518.40 247.94L518.68 247.56L518.95 247.18L519.23 246.79L519.50 246.41L519.78 246.03L520.06 245.64L520.33 245.26L520.61 244.87L520.89 244.49L521.16 244.10L521.44 243.71L521.72 243.33L521.99 242.94L522.27 242.55L522.54 242.16L522.82 241.77L523.10 241.38L523.37 240.99L523.65 240.60L523.92 240.21L524.20 239.82L524.48 239.43L524.75 239.04L525.03 238.64L525.31 238.25L525.58 237.86L525.86 237.47L526.13 237.07L526.41 236.68L526.69 236.29L526.96 235.89L527.24 235.50L527.52 235.11L527.79 234.71L528.07 234.32L528.35 233.92L528.62 233.53L528.90 233.14L529.17 232.74L529.45 232.35L529.73 231.95L530.00 231.56L530.28 231.16L530.56 230.76L530.83 230.37L531.11 229.97L531.38 229.58L531.66 229.18L531.94 228.79L532.21 228.39L532.49 228.00L532.76 227.60L533.04 227.20L533.32 226.81L533.59 226.41L533.87 226.01L534.15 225.62L534.42 225.22L534.70 224.83L534.98 224.43L535.25 224.03L535.53 223.64L535.80 223.24L536.08 222.84L536.36 222.45L536.63 222.05L536.91 221.65L537.18 221.26L537.46 220.86L537.74 220.46L538.01 220.07L538.29 219.67L538.57 219.27L538.84 218.88L539.12 218.48L539.39 218.08L539.67 217.68L539.95 217.29L540.22 216.89L540.50 216.49" fill="none" stroke="#000" stroke-width="1.15" stroke-linejoin="round"/>
<text x="372.1" y="171.1" textLength="115.4" lengthAdjust="spacingAndGlyphs">U<tspan dy="2.6" font-size="5.3">fwd</tspan><tspan dy="-2.6">=1 a=0.8 PG</tspan><tspan dy="2.6" font-size="5.3">SS</tspan><tspan dy="-2.6">=0 α</tspan><tspan dy="2.6" font-size="5.3">pg</tspan><tspan dy="-2.6">=0 P</tspan><tspan dy="2.6" font-size="5.3">max</tspan><tspan dy="-2.6">=0</tspan></text>
<text x="430" y="315.5" text-anchor="middle" textLength="78.6" lengthAdjust="spacingAndGlyphs">Nondimensional Time [-]</text>
<text transform="translate(304.9 238.8) rotate(-90)" text-anchor="middle" textLength="113.1" lengthAdjust="spacingAndGlyphs">Nondimensional Integral Volume [-]</text>
</svg></body></html>
